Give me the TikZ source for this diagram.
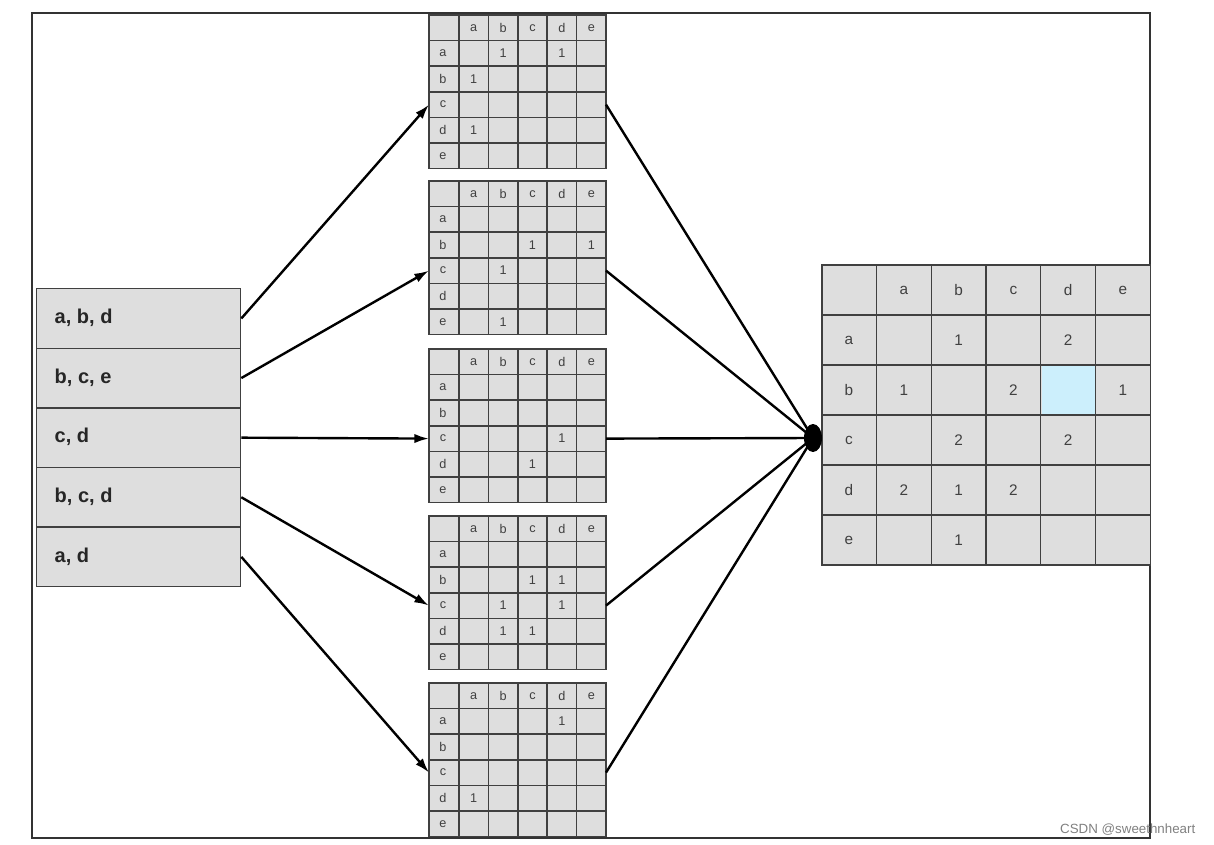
\documentclass[tikz,border=0pt]{standalone}
\usepackage{fontspec}
\setmainfont{Liberation Sans}
\usetikzlibrary{arrows.meta}
\begin{document}
\begin{tikzpicture}[x=0.75pt,y=-0.75pt,
  cell/.style={draw=black!75,line width=1pt,fill=black!13},
  arr/.style={-{Latex[length=11pt,width=7pt]},line width=1.8pt},
  lnk/.style={line width=1.8pt},
  sm/.style={font=\fontsize{9.5}{10}\selectfont,text=black!75},
  bg/.style={font=\fontsize{11.5}{12}\selectfont,text=black!75}]
\useasboundingbox (0,0) rectangle (1214,845);
\draw[line width=1pt,black!80] (32,13) rectangle (1150,838);
% left list
\foreach \t [count=\i from 0] in {{a, b, d},{b, c, e},{c, d},{b, c, d},{a, d}}{
  \node[cell,minimum width=204*0.75pt,minimum height=59.6*0.75pt,anchor=north west,inner sep=0pt] (L\i) at (36,288+59.6*\i) {};
  \node[anchor=west,font=\bfseries\fontsize{15}{16}\selectfont,text=black!85] at (50,318+59.6*\i) {\t};
}
% small matrices
\def\ys{{15,181,349,516,683}}
\foreach \m in {0,...,4}{
  \pgfmathsetmacro{\yo}{\ys[\m]}
  \foreach \r in {0,...,5}{\foreach \c in {0,...,5}{
    \pgfmathsetmacro{\xx}{\c==0?429:459+29.4*(\c-1)}
    \pgfmathsetmacro{\ww}{\c==0?30:29.4}
    \draw[cell,line width=1.3pt] (\xx,\yo+25.6*\r) rectangle ++(\ww,25.6);
  }}
  \foreach \l [count=\k] in {a,b,c,d,e}{
    \node[sm] at (459+29.4*\k-14.7,\yo+12.8) {\l};
    \node[sm] at (443,\yo+25.6*\k+12.8) {\l};
  }
  \coordinate (M\m) at (429,\yo+89.6);
  \coordinate (R\m) at (606,\yo+89.6);
}
\newcommand\sv[3]{\pgfmathsetmacro{\yo}{\ys[#1]}\node[sm] at (459+29.4*#3-14.7,\yo+25.6*#2+12.8) {1};}
\sv{0}{1}{2}\sv{0}{1}{4}\sv{0}{2}{1}\sv{0}{4}{1}
\sv{1}{2}{3}\sv{1}{2}{5}\sv{1}{3}{2}\sv{1}{5}{2}
\sv{2}{3}{4}\sv{2}{4}{3}
\sv{3}{2}{3}\sv{3}{2}{4}\sv{3}{3}{2}\sv{3}{3}{4}\sv{3}{4}{2}\sv{3}{4}{3}
\sv{4}{1}{4}\sv{4}{4}{1}
% big matrix
\foreach \r in {0,...,5}{\foreach \c in {0,...,5}{
  \draw[cell] (822+54.7*\c,265+50*\r) rectangle ++(54.7,50);
}}
\fill[cyan!20] (822+54.7*4+1,315+50+1) rectangle ++(52.7,48);
\foreach \l [count=\k] in {a,b,c,d,e}{
  \node[bg] at (822+54.7*\k+27.3,290) {\l};
  \node[bg] at (849,265+50*\k+25) {\l};
}
\newcommand\bv[3]{\node[bg] at (822+54.7*#2+27.3,265+50*#1+25) {#3};}
\bv{1}{2}{1}\bv{1}{4}{2}
\bv{2}{1}{1}\bv{2}{3}{2}\bv{2}{5}{1}
\bv{3}{2}{2}\bv{3}{4}{2}
\bv{4}{1}{2}\bv{4}{2}{1}\bv{4}{3}{2}
\bv{5}{2}{1}
\coordinate (J) at (813,438);
\fill (J) ellipse (9 and 14);
% arrows
\draw[arr] (L0.east) -- (M0);
\draw[arr] (L1.east) -- (M1);
\draw[arr] (L2.east) -- (M2);
\draw[arr] (L3.east) -- (M3);
\draw[arr] (L4.east) -- (M4);
\foreach \m in {0,...,4}{\draw[lnk] (R\m) -- (J);}
\node[anchor=south east,font=\fontsize{10}{11}\selectfont,text=black!50] at (1200,840) {CSDN @sweethnheart};
\end{tikzpicture}
\end{document}
